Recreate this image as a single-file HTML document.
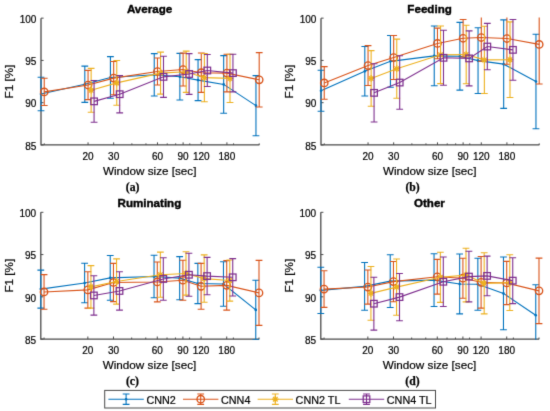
<!DOCTYPE html>
<html><head><meta charset="utf-8"><style>
html,body{margin:0;padding:0;background:#fff;}
svg{display:block;}
text{font-family:"Liberation Sans", sans-serif;fill:#000;stroke:#000;stroke-width:0.2px;}
.s{stroke-width:0.25px;fill:#000;}
.t{fill:#000;stroke:#000;stroke-width:0.4px;}
</style></head><body>
<svg width="550" height="411" viewBox="0 0 550 411">
<defs><filter id="bl" x="0" y="0" width="550" height="411" filterUnits="userSpaceOnUse" color-interpolation-filters="sRGB"><feConvolveMatrix order="3" kernelMatrix="0.0113 0.0837 0.0113 0.0837 0.620 0.0837 0.0113 0.0837 0.0113" edgeMode="duplicate"/></filter></defs>
<g filter="url(#bl)">
<rect width="550" height="411" fill="#fff"/>
<clipPath id="clipa"><rect x="35.00" y="17.55" width="230.40" height="128.00"/></clipPath>
<path d="M41.00 18.15V144.95H259.40" stroke="#4a4a4a" stroke-width="1.3" fill="none"/>
<text x="36.40" y="22.95" text-anchor="end" font-size="10.0">100</text>
<text x="36.40" y="65.22" text-anchor="end" font-size="10.0">95</text>
<text x="36.40" y="107.48" text-anchor="end" font-size="10.0">90</text>
<text x="36.40" y="149.75" text-anchor="end" font-size="10.0">85</text>
<text x="88.05" y="159.95" text-anchor="middle" font-size="10.0">20</text>
<text x="113.67" y="159.95" text-anchor="middle" font-size="10.0">30</text>
<text x="157.48" y="159.95" text-anchor="middle" font-size="10.0">60</text>
<text x="183.11" y="159.95" text-anchor="middle" font-size="10.0">90</text>
<text x="201.29" y="159.95" text-anchor="middle" font-size="10.0">120</text>
<text x="226.91" y="159.95" text-anchor="middle" font-size="10.0">180</text>
<path d="M41.00 18.15h2.6M41.00 60.42h2.6M41.00 102.68h2.6M41.00 144.95h2.6M88.05 144.95v-2.6M113.67 144.95v-2.6M157.48 144.95v-2.6M183.11 144.95v-2.6M201.29 144.95v-2.6M226.91 144.95v-2.6M44.24 144.95v-1.6M131.86 144.95v-1.6M145.96 144.95v-1.6M167.22 144.95v-1.6M175.66 144.95v-1.6M189.77 144.95v-1.6M233.57 144.95v-1.6M259.20 144.95v-1.6" stroke="#4a4a4a" stroke-width="1" fill="none"/>
<path clip-path="url(#clipa)" d="M41.00 77.30V110.70M37.60 77.30H44.40M37.60 110.70H44.40M84.81 66.10V102.40M81.41 66.10H88.21M81.41 102.40H88.21M110.43 56.60V98.30M107.03 56.60H113.83M107.03 98.30H113.83M154.24 53.60V96.00M150.84 53.60H157.64M150.84 96.00H157.64M179.86 53.40V100.00M176.46 53.40H183.26M176.46 100.00H183.26M198.05 59.60V100.60M194.65 59.60H201.45M194.65 100.60H201.45M223.67 55.60V113.20M220.27 55.60H227.07M220.27 113.20H227.07M255.96 75.60V135.70M252.56 75.60H259.36M252.56 135.70H259.36" stroke="#0072BD" stroke-width="1.1" fill="none"/>
<polyline points="41.00,94.00 84.81,84.25 110.43,77.45 154.24,74.80 179.86,76.70 198.05,80.10 223.67,84.40 255.96,105.65" stroke="#0072BD" stroke-width="1.1" fill="none"/>
<circle cx="41.00" cy="94.00" r="1.3" fill="#0072BD"/>
<circle cx="84.81" cy="84.25" r="1.3" fill="#0072BD"/>
<circle cx="110.43" cy="77.45" r="1.3" fill="#0072BD"/>
<circle cx="154.24" cy="74.80" r="1.3" fill="#0072BD"/>
<circle cx="179.86" cy="76.70" r="1.3" fill="#0072BD"/>
<circle cx="198.05" cy="80.10" r="1.3" fill="#0072BD"/>
<circle cx="223.67" cy="84.40" r="1.3" fill="#0072BD"/>
<circle cx="255.96" cy="105.65" r="1.3" fill="#0072BD"/>
<path clip-path="url(#clipa)" d="M44.24 78.30V105.50M40.84 78.30H47.64M40.84 105.50H47.64M88.05 70.40V99.60M84.65 70.40H91.45M84.65 99.60H91.45M113.67 61.50V94.70M110.27 61.50H117.07M110.27 94.70H117.07M157.48 58.00V85.00M154.08 58.00H160.88M154.08 85.00H160.88M183.11 53.10V86.00M179.71 53.10H186.51M179.71 86.00H186.51M201.29 53.00V92.40M197.89 53.00H204.69M197.89 92.40H204.69M226.91 54.30V91.90M223.51 54.30H230.31M223.51 91.90H230.31M259.20 52.60V107.00M255.80 52.60H262.60M255.80 107.00H262.60" stroke="#D95319" stroke-width="1.1" fill="none"/>
<polyline points="44.24,91.90 88.05,85.00 113.67,78.10 157.48,71.50 183.11,69.55 201.29,72.70 226.91,73.10 259.20,79.80" stroke="#D95319" stroke-width="1.1" fill="none"/>
<circle cx="44.24" cy="91.90" r="3.7" fill="none" stroke="#D95319" stroke-width="1.35"/>
<circle cx="88.05" cy="85.00" r="3.7" fill="none" stroke="#D95319" stroke-width="1.35"/>
<circle cx="113.67" cy="78.10" r="3.7" fill="none" stroke="#D95319" stroke-width="1.35"/>
<circle cx="157.48" cy="71.50" r="3.7" fill="none" stroke="#D95319" stroke-width="1.35"/>
<circle cx="183.11" cy="69.55" r="3.7" fill="none" stroke="#D95319" stroke-width="1.35"/>
<circle cx="201.29" cy="72.70" r="3.7" fill="none" stroke="#D95319" stroke-width="1.35"/>
<circle cx="226.91" cy="73.10" r="3.7" fill="none" stroke="#D95319" stroke-width="1.35"/>
<circle cx="259.20" cy="79.80" r="3.7" fill="none" stroke="#D95319" stroke-width="1.35"/>
<path clip-path="url(#clipa)" d="M91.13 68.40V112.20M87.73 68.40H94.53M87.73 112.20H94.53M116.76 60.50V105.30M113.36 60.50H120.16M113.36 105.30H120.16M160.56 52.10V94.10M157.16 52.10H163.96M157.16 94.10H163.96M186.19 51.10V92.40M182.79 51.10H189.59M182.79 92.40H189.59M204.37 53.50V101.80M200.97 53.50H207.77M200.97 101.80H207.77M230.00 54.30V102.50M226.60 54.30H233.40M226.60 102.50H233.40" stroke="#EDB120" stroke-width="1.1" fill="none"/>
<polyline points="91.13,90.30 116.76,82.90 160.56,73.10 186.19,71.75 204.37,77.65 230.00,78.40" stroke="#EDB120" stroke-width="1.1" fill="none"/>
<path d="M87.83 90.30H94.43M91.13 87.00V93.60M88.80 87.97L93.47 92.63M88.80 92.63L93.47 87.97" stroke="#EDB120" stroke-width="1.25" fill="none"/>
<path d="M113.46 82.90H120.06M116.76 79.60V86.20M114.42 80.57L119.09 85.23M114.42 85.23L119.09 80.57" stroke="#EDB120" stroke-width="1.25" fill="none"/>
<path d="M157.26 73.10H163.86M160.56 69.80V76.40M158.23 70.77L162.90 75.43M158.23 75.43L162.90 70.77" stroke="#EDB120" stroke-width="1.25" fill="none"/>
<path d="M182.89 71.75H189.49M186.19 68.45V75.05M183.86 69.42L188.52 74.08M183.86 74.08L188.52 69.42" stroke="#EDB120" stroke-width="1.25" fill="none"/>
<path d="M201.07 77.65H207.67M204.37 74.35V80.95M202.04 75.32L206.70 79.98M202.04 79.98L206.70 75.32" stroke="#EDB120" stroke-width="1.25" fill="none"/>
<path d="M226.70 78.40H233.30M230.00 75.10V81.70M227.66 76.07L232.33 80.73M227.66 80.73L232.33 76.07" stroke="#EDB120" stroke-width="1.25" fill="none"/>
<path clip-path="url(#clipa)" d="M94.07 80.50V122.20M90.67 80.50H97.47M90.67 122.20H97.47M119.70 75.50V112.90M116.30 75.50H123.10M116.30 112.90H123.10M163.50 56.30V97.40M160.10 56.30H166.90M160.10 97.40H166.90M189.13 53.60V94.40M185.73 53.60H192.53M185.73 94.40H192.53M207.31 54.50V86.50M203.91 54.50H210.71M203.91 86.50H210.71M232.94 54.30V91.90M229.54 54.30H236.34M229.54 91.90H236.34" stroke="#7E2F8E" stroke-width="1.1" fill="none"/>
<polyline points="94.07,101.35 119.70,94.20 163.50,76.85 189.13,74.00 207.31,70.50 232.94,73.10" stroke="#7E2F8E" stroke-width="1.1" fill="none"/>
<rect x="90.77" y="98.05" width="6.60" height="6.60" fill="none" stroke="#7E2F8E" stroke-width="1.25"/>
<rect x="116.40" y="90.90" width="6.60" height="6.60" fill="none" stroke="#7E2F8E" stroke-width="1.25"/>
<rect x="160.20" y="73.55" width="6.60" height="6.60" fill="none" stroke="#7E2F8E" stroke-width="1.25"/>
<rect x="185.83" y="70.70" width="6.60" height="6.60" fill="none" stroke="#7E2F8E" stroke-width="1.25"/>
<rect x="204.01" y="67.20" width="6.60" height="6.60" fill="none" stroke="#7E2F8E" stroke-width="1.25"/>
<rect x="229.64" y="69.80" width="6.60" height="6.60" fill="none" stroke="#7E2F8E" stroke-width="1.25"/>
<text x="149.60" y="12.95" text-anchor="middle" font-size="11.6" font-weight="bold" class="t">Average</text>
<text x="149.70" y="175.25" text-anchor="middle" font-size="11.7">Window size [sec]</text>
<text transform="translate(13.00 81.55) rotate(-90)" x="0" y="0" text-anchor="middle" font-size="11.7">F1 [%]</text>
<text x="132.60" y="191.15" text-anchor="middle" font-size="11.7" font-weight="bold" class="s" style='font-family:"Liberation Serif", serif'>(a)</text>
<clipPath id="clipb"><rect x="315.00" y="17.55" width="230.40" height="128.00"/></clipPath>
<path d="M321.00 18.15V144.95H539.40" stroke="#4a4a4a" stroke-width="1.3" fill="none"/>
<text x="316.40" y="22.95" text-anchor="end" font-size="10.0">100</text>
<text x="316.40" y="65.22" text-anchor="end" font-size="10.0">95</text>
<text x="316.40" y="107.48" text-anchor="end" font-size="10.0">90</text>
<text x="316.40" y="149.75" text-anchor="end" font-size="10.0">85</text>
<text x="368.05" y="159.95" text-anchor="middle" font-size="10.0">20</text>
<text x="393.67" y="159.95" text-anchor="middle" font-size="10.0">30</text>
<text x="437.48" y="159.95" text-anchor="middle" font-size="10.0">60</text>
<text x="463.11" y="159.95" text-anchor="middle" font-size="10.0">90</text>
<text x="481.29" y="159.95" text-anchor="middle" font-size="10.0">120</text>
<text x="506.91" y="159.95" text-anchor="middle" font-size="10.0">180</text>
<path d="M321.00 18.15h2.6M321.00 60.42h2.6M321.00 102.68h2.6M321.00 144.95h2.6M368.05 144.95v-2.6M393.67 144.95v-2.6M437.48 144.95v-2.6M463.11 144.95v-2.6M481.29 144.95v-2.6M506.91 144.95v-2.6M324.24 144.95v-1.6M411.86 144.95v-1.6M425.96 144.95v-1.6M447.22 144.95v-1.6M455.66 144.95v-1.6M469.77 144.95v-1.6M513.57 144.95v-1.6M539.20 144.95v-1.6" stroke="#4a4a4a" stroke-width="1" fill="none"/>
<path clip-path="url(#clipb)" d="M321.00 70.20V111.20M317.60 70.20H324.40M317.60 111.20H324.40M364.81 46.50V96.00M361.41 46.50H368.21M361.41 96.00H368.21M390.43 35.50V87.20M387.03 35.50H393.83M387.03 87.20H393.83M434.24 26.00V85.80M430.84 26.00H437.64M430.84 85.80H437.64M459.86 22.40V90.10M456.46 22.40H463.26M456.46 90.10H463.26M478.05 27.80V93.50M474.65 27.80H481.45M474.65 93.50H481.45M503.67 19.90V108.40M500.27 19.90H507.07M500.27 108.40H507.07M535.96 34.20V128.70M532.56 34.20H539.36M532.56 128.70H539.36" stroke="#0072BD" stroke-width="1.1" fill="none"/>
<polyline points="321.00,90.70 364.81,71.25 390.43,61.35 434.24,55.90 459.86,56.25 478.05,60.65 503.67,64.15 535.96,81.45" stroke="#0072BD" stroke-width="1.1" fill="none"/>
<circle cx="321.00" cy="90.70" r="1.3" fill="#0072BD"/>
<circle cx="364.81" cy="71.25" r="1.3" fill="#0072BD"/>
<circle cx="390.43" cy="61.35" r="1.3" fill="#0072BD"/>
<circle cx="434.24" cy="55.90" r="1.3" fill="#0072BD"/>
<circle cx="459.86" cy="56.25" r="1.3" fill="#0072BD"/>
<circle cx="478.05" cy="60.65" r="1.3" fill="#0072BD"/>
<circle cx="503.67" cy="64.15" r="1.3" fill="#0072BD"/>
<circle cx="535.96" cy="81.45" r="1.3" fill="#0072BD"/>
<path clip-path="url(#clipb)" d="M324.24 66.60V99.20M320.84 66.60H327.64M320.84 99.20H327.64M368.05 45.60V85.50M364.65 45.60H371.45M364.65 85.50H371.45M393.67 35.50V79.50M390.27 35.50H397.07M390.27 79.50H397.07M437.48 28.10V58.80M434.08 28.10H440.88M434.08 58.80H440.88M463.11 19.50V57.00M459.71 19.50H466.51M459.71 57.00H466.51M481.29 13.80V61.20M477.89 13.80H484.69M477.89 61.20H484.69M506.91 12.80V64.20M503.51 12.80H510.31M503.51 64.20H510.31M539.20 4.80V84.00M535.80 4.80H542.60M535.80 84.00H542.60" stroke="#D95319" stroke-width="1.1" fill="none"/>
<polyline points="324.24,82.90 368.05,65.55 393.67,57.50 437.48,43.45 463.11,38.25 481.29,37.50 506.91,38.50 539.20,44.40" stroke="#D95319" stroke-width="1.1" fill="none"/>
<circle cx="324.24" cy="82.90" r="3.7" fill="none" stroke="#D95319" stroke-width="1.35"/>
<circle cx="368.05" cy="65.55" r="3.7" fill="none" stroke="#D95319" stroke-width="1.35"/>
<circle cx="393.67" cy="57.50" r="3.7" fill="none" stroke="#D95319" stroke-width="1.35"/>
<circle cx="437.48" cy="43.45" r="3.7" fill="none" stroke="#D95319" stroke-width="1.35"/>
<circle cx="463.11" cy="38.25" r="3.7" fill="none" stroke="#D95319" stroke-width="1.35"/>
<circle cx="481.29" cy="37.50" r="3.7" fill="none" stroke="#D95319" stroke-width="1.35"/>
<circle cx="506.91" cy="38.50" r="3.7" fill="none" stroke="#D95319" stroke-width="1.35"/>
<circle cx="539.20" cy="44.40" r="3.7" fill="none" stroke="#D95319" stroke-width="1.35"/>
<path clip-path="url(#clipb)" d="M371.13 50.60V106.20M367.73 50.60H374.53M367.73 106.20H374.53M396.76 39.10V98.20M393.36 39.10H400.16M393.36 98.20H400.16M440.56 26.00V83.60M437.16 26.00H443.96M437.16 83.60H443.96M466.19 25.30V83.80M462.79 25.30H469.59M462.79 83.80H469.59M484.37 26.30V93.50M480.97 26.30H487.77M480.97 93.50H487.77M510.00 21.90V97.50M506.60 21.90H513.40M506.60 97.50H513.40" stroke="#EDB120" stroke-width="1.1" fill="none"/>
<polyline points="371.13,78.40 396.76,68.65 440.56,54.80 466.19,54.55 484.37,59.90 510.00,59.70" stroke="#EDB120" stroke-width="1.1" fill="none"/>
<path d="M367.83 78.40H374.43M371.13 75.10V81.70M368.80 76.07L373.47 80.73M368.80 80.73L373.47 76.07" stroke="#EDB120" stroke-width="1.25" fill="none"/>
<path d="M393.46 68.65H400.06M396.76 65.35V71.95M394.42 66.32L399.09 70.98M394.42 70.98L399.09 66.32" stroke="#EDB120" stroke-width="1.25" fill="none"/>
<path d="M437.26 54.80H443.86M440.56 51.50V58.10M438.23 52.47L442.90 57.13M438.23 57.13L442.90 52.47" stroke="#EDB120" stroke-width="1.25" fill="none"/>
<path d="M462.89 54.55H469.49M466.19 51.25V57.85M463.86 52.22L468.52 56.88M463.86 56.88L468.52 52.22" stroke="#EDB120" stroke-width="1.25" fill="none"/>
<path d="M481.07 59.90H487.67M484.37 56.60V63.20M482.04 57.57L486.70 62.23M482.04 62.23L486.70 57.57" stroke="#EDB120" stroke-width="1.25" fill="none"/>
<path d="M506.70 59.70H513.30M510.00 56.40V63.00M507.66 57.37L512.33 62.03M507.66 62.03L512.33 57.37" stroke="#EDB120" stroke-width="1.25" fill="none"/>
<path clip-path="url(#clipb)" d="M374.07 63.70V122.00M370.67 63.70H377.47M370.67 122.00H377.47M399.70 55.80V109.30M396.30 55.80H403.10M396.30 109.30H403.10M443.50 30.30V85.30M440.10 30.30H446.90M440.10 85.30H446.90M469.13 30.90V85.90M465.73 30.90H472.53M465.73 85.90H472.53M487.31 23.40V69.70M483.91 23.40H490.71M483.91 69.70H490.71M512.94 19.50V80.20M509.54 19.50H516.34M509.54 80.20H516.34" stroke="#7E2F8E" stroke-width="1.1" fill="none"/>
<polyline points="374.07,92.85 399.70,82.55 443.50,57.80 469.13,58.40 487.31,46.55 512.94,49.85" stroke="#7E2F8E" stroke-width="1.1" fill="none"/>
<rect x="370.77" y="89.55" width="6.60" height="6.60" fill="none" stroke="#7E2F8E" stroke-width="1.25"/>
<rect x="396.40" y="79.25" width="6.60" height="6.60" fill="none" stroke="#7E2F8E" stroke-width="1.25"/>
<rect x="440.20" y="54.50" width="6.60" height="6.60" fill="none" stroke="#7E2F8E" stroke-width="1.25"/>
<rect x="465.83" y="55.10" width="6.60" height="6.60" fill="none" stroke="#7E2F8E" stroke-width="1.25"/>
<rect x="484.01" y="43.25" width="6.60" height="6.60" fill="none" stroke="#7E2F8E" stroke-width="1.25"/>
<rect x="509.64" y="46.55" width="6.60" height="6.60" fill="none" stroke="#7E2F8E" stroke-width="1.25"/>
<text x="429.60" y="12.95" text-anchor="middle" font-size="11.6" font-weight="bold" class="t">Feeding</text>
<text x="429.70" y="175.25" text-anchor="middle" font-size="11.7">Window size [sec]</text>
<text transform="translate(293.00 81.55) rotate(-90)" x="0" y="0" text-anchor="middle" font-size="11.7">F1 [%]</text>
<text x="412.60" y="191.15" text-anchor="middle" font-size="11.7" font-weight="bold" class="s" style='font-family:"Liberation Serif", serif'>(b)</text>
<clipPath id="clipc"><rect x="34.80" y="211.70" width="230.40" height="128.00"/></clipPath>
<path d="M40.80 212.30V339.10H259.20" stroke="#4a4a4a" stroke-width="1.3" fill="none"/>
<text x="36.20" y="217.10" text-anchor="end" font-size="10.0">100</text>
<text x="36.20" y="259.37" text-anchor="end" font-size="10.0">95</text>
<text x="36.20" y="301.63" text-anchor="end" font-size="10.0">90</text>
<text x="36.20" y="343.90" text-anchor="end" font-size="10.0">85</text>
<text x="87.85" y="354.10" text-anchor="middle" font-size="10.0">20</text>
<text x="113.47" y="354.10" text-anchor="middle" font-size="10.0">30</text>
<text x="157.28" y="354.10" text-anchor="middle" font-size="10.0">60</text>
<text x="182.91" y="354.10" text-anchor="middle" font-size="10.0">90</text>
<text x="201.09" y="354.10" text-anchor="middle" font-size="10.0">120</text>
<text x="226.71" y="354.10" text-anchor="middle" font-size="10.0">180</text>
<path d="M40.80 212.30h2.6M40.80 254.57h2.6M40.80 296.83h2.6M40.80 339.10h2.6M87.85 339.10v-2.6M113.47 339.10v-2.6M157.28 339.10v-2.6M182.91 339.10v-2.6M201.09 339.10v-2.6M226.71 339.10v-2.6M44.04 339.10v-1.6M131.66 339.10v-1.6M145.76 339.10v-1.6M167.02 339.10v-1.6M175.46 339.10v-1.6M189.57 339.10v-1.6M233.37 339.10v-1.6M259.00 339.10v-1.6" stroke="#4a4a4a" stroke-width="1" fill="none"/>
<path clip-path="url(#clipc)" d="M40.80 270.10V308.10M37.40 270.10H44.20M37.40 308.10H44.20M84.61 263.30V302.70M81.21 263.30H88.01M81.21 302.70H88.01M110.23 255.50V300.20M106.83 255.50H113.63M106.83 300.20H113.63M154.04 255.20V297.70M150.64 255.20H157.44M150.64 297.70H157.44M179.66 256.60V299.70M176.26 256.60H183.06M176.26 299.70H183.06M197.85 263.40V303.60M194.45 263.40H201.25M194.45 303.60H201.25M223.47 261.70V306.20M220.07 261.70H226.87M220.07 306.20H226.87M255.76 280.20V339.60M252.36 280.20H259.16M252.36 339.60H259.16" stroke="#0072BD" stroke-width="1.1" fill="none"/>
<polyline points="40.80,289.10 84.61,283.00 110.23,277.85 154.04,276.45 179.66,278.15 197.85,283.50 223.47,283.95 255.76,309.90" stroke="#0072BD" stroke-width="1.1" fill="none"/>
<circle cx="40.80" cy="289.10" r="1.3" fill="#0072BD"/>
<circle cx="84.61" cy="283.00" r="1.3" fill="#0072BD"/>
<circle cx="110.23" cy="277.85" r="1.3" fill="#0072BD"/>
<circle cx="154.04" cy="276.45" r="1.3" fill="#0072BD"/>
<circle cx="179.66" cy="278.15" r="1.3" fill="#0072BD"/>
<circle cx="197.85" cy="283.50" r="1.3" fill="#0072BD"/>
<circle cx="223.47" cy="283.95" r="1.3" fill="#0072BD"/>
<circle cx="255.76" cy="309.90" r="1.3" fill="#0072BD"/>
<path clip-path="url(#clipc)" d="M44.04 274.60V309.30M40.64 274.60H47.44M40.64 309.30H47.44M87.85 271.70V308.10M84.45 271.70H91.25M84.45 308.10H91.25M113.47 263.40V301.60M110.07 263.40H116.87M110.07 301.60H116.87M157.28 262.00V301.90M153.88 262.00H160.68M153.88 301.90H160.68M182.91 260.30V300.20M179.51 260.30H186.31M179.51 300.20H186.31M201.09 263.40V309.20M197.69 263.40H204.49M197.69 309.20H204.49M226.71 260.60V310.10M223.31 260.60H230.11M223.31 310.10H230.11M259.00 260.40V325.40M255.60 260.40H262.40M255.60 325.40H262.40" stroke="#D95319" stroke-width="1.1" fill="none"/>
<polyline points="44.04,291.95 87.85,289.90 113.47,282.50 157.28,281.95 182.91,280.25 201.09,286.30 226.71,285.35 259.00,292.90" stroke="#D95319" stroke-width="1.1" fill="none"/>
<circle cx="44.04" cy="291.95" r="3.7" fill="none" stroke="#D95319" stroke-width="1.35"/>
<circle cx="87.85" cy="289.90" r="3.7" fill="none" stroke="#D95319" stroke-width="1.35"/>
<circle cx="113.47" cy="282.50" r="3.7" fill="none" stroke="#D95319" stroke-width="1.35"/>
<circle cx="157.28" cy="281.95" r="3.7" fill="none" stroke="#D95319" stroke-width="1.35"/>
<circle cx="182.91" cy="280.25" r="3.7" fill="none" stroke="#D95319" stroke-width="1.35"/>
<circle cx="201.09" cy="286.30" r="3.7" fill="none" stroke="#D95319" stroke-width="1.35"/>
<circle cx="226.71" cy="285.35" r="3.7" fill="none" stroke="#D95319" stroke-width="1.35"/>
<circle cx="259.00" cy="292.90" r="3.7" fill="none" stroke="#D95319" stroke-width="1.35"/>
<path clip-path="url(#clipc)" d="M90.93 265.60V308.10M87.53 265.60H94.33M87.53 308.10H94.33M116.56 258.90V304.10M113.16 258.90H119.96M113.16 304.10H119.96M160.36 252.10V297.30M156.96 252.10H163.76M156.96 297.30H163.76M185.99 251.80V295.10M182.59 251.80H189.39M182.59 295.10H189.39M204.17 254.90V302.30M200.77 254.90H207.57M200.77 302.30H207.57M229.80 260.00V301.10M226.40 260.00H233.20M226.40 301.10H233.20" stroke="#EDB120" stroke-width="1.1" fill="none"/>
<polyline points="90.93,286.85 116.56,281.50 160.36,274.70 185.99,273.45 204.17,278.60 229.80,280.55" stroke="#EDB120" stroke-width="1.1" fill="none"/>
<path d="M87.63 286.85H94.23M90.93 283.55V290.15M88.60 284.52L93.27 289.18M88.60 289.18L93.27 284.52" stroke="#EDB120" stroke-width="1.25" fill="none"/>
<path d="M113.26 281.50H119.86M116.56 278.20V284.80M114.22 279.17L118.89 283.83M114.22 283.83L118.89 279.17" stroke="#EDB120" stroke-width="1.25" fill="none"/>
<path d="M157.06 274.70H163.66M160.36 271.40V278.00M158.03 272.37L162.70 277.03M158.03 277.03L162.70 272.37" stroke="#EDB120" stroke-width="1.25" fill="none"/>
<path d="M182.69 273.45H189.29M185.99 270.15V276.75M183.66 271.12L188.32 275.78M183.66 275.78L188.32 271.12" stroke="#EDB120" stroke-width="1.25" fill="none"/>
<path d="M200.87 278.60H207.47M204.17 275.30V281.90M201.84 276.27L206.50 280.93M201.84 280.93L206.50 276.27" stroke="#EDB120" stroke-width="1.25" fill="none"/>
<path d="M226.50 280.55H233.10M229.80 277.25V283.85M227.46 278.22L232.13 282.88M227.46 282.88L232.13 278.22" stroke="#EDB120" stroke-width="1.25" fill="none"/>
<path clip-path="url(#clipc)" d="M93.87 275.80V315.10M90.47 275.80H97.27M90.47 315.10H97.27M119.50 271.80V310.10M116.10 271.80H122.90M116.10 310.10H122.90M163.30 257.70V300.20M159.90 257.70H166.70M159.90 300.20H166.70M188.93 253.20V296.30M185.53 253.20H192.33M185.53 296.30H192.33M207.11 257.40V294.80M203.71 257.40H210.51M203.71 294.80H210.51M232.74 258.60V296.00M229.34 258.60H236.14M229.34 296.00H236.14" stroke="#7E2F8E" stroke-width="1.1" fill="none"/>
<polyline points="93.87,295.45 119.50,290.95 163.30,278.95 188.93,274.75 207.11,276.10 232.74,277.30" stroke="#7E2F8E" stroke-width="1.1" fill="none"/>
<rect x="90.57" y="292.15" width="6.60" height="6.60" fill="none" stroke="#7E2F8E" stroke-width="1.25"/>
<rect x="116.20" y="287.65" width="6.60" height="6.60" fill="none" stroke="#7E2F8E" stroke-width="1.25"/>
<rect x="160.00" y="275.65" width="6.60" height="6.60" fill="none" stroke="#7E2F8E" stroke-width="1.25"/>
<rect x="185.63" y="271.45" width="6.60" height="6.60" fill="none" stroke="#7E2F8E" stroke-width="1.25"/>
<rect x="203.81" y="272.80" width="6.60" height="6.60" fill="none" stroke="#7E2F8E" stroke-width="1.25"/>
<rect x="229.44" y="274.00" width="6.60" height="6.60" fill="none" stroke="#7E2F8E" stroke-width="1.25"/>
<text x="149.40" y="207.10" text-anchor="middle" font-size="11.6" font-weight="bold" class="t">Ruminating</text>
<text x="149.50" y="369.40" text-anchor="middle" font-size="11.7">Window size [sec]</text>
<text transform="translate(12.80 275.70) rotate(-90)" x="0" y="0" text-anchor="middle" font-size="11.7">F1 [%]</text>
<text x="132.40" y="385.30" text-anchor="middle" font-size="11.7" font-weight="bold" class="s" style='font-family:"Liberation Serif", serif'>(c)</text>
<clipPath id="clipd"><rect x="314.80" y="211.70" width="230.40" height="128.00"/></clipPath>
<path d="M320.80 212.30V339.10H539.20" stroke="#4a4a4a" stroke-width="1.3" fill="none"/>
<text x="316.20" y="217.10" text-anchor="end" font-size="10.0">100</text>
<text x="316.20" y="259.37" text-anchor="end" font-size="10.0">95</text>
<text x="316.20" y="301.63" text-anchor="end" font-size="10.0">90</text>
<text x="316.20" y="343.90" text-anchor="end" font-size="10.0">85</text>
<text x="367.85" y="354.10" text-anchor="middle" font-size="10.0">20</text>
<text x="393.47" y="354.10" text-anchor="middle" font-size="10.0">30</text>
<text x="437.28" y="354.10" text-anchor="middle" font-size="10.0">60</text>
<text x="462.91" y="354.10" text-anchor="middle" font-size="10.0">90</text>
<text x="481.09" y="354.10" text-anchor="middle" font-size="10.0">120</text>
<text x="506.71" y="354.10" text-anchor="middle" font-size="10.0">180</text>
<path d="M320.80 212.30h2.6M320.80 254.57h2.6M320.80 296.83h2.6M320.80 339.10h2.6M367.85 339.10v-2.6M393.47 339.10v-2.6M437.28 339.10v-2.6M462.91 339.10v-2.6M481.09 339.10v-2.6M506.71 339.10v-2.6M324.04 339.10v-1.6M411.66 339.10v-1.6M425.76 339.10v-1.6M447.02 339.10v-1.6M455.46 339.10v-1.6M469.57 339.10v-1.6M513.37 339.10v-1.6M539.00 339.10v-1.6" stroke="#4a4a4a" stroke-width="1" fill="none"/>
<path clip-path="url(#clipd)" d="M320.80 267.30V313.50M317.40 267.30H324.20M317.40 313.50H324.20M364.61 262.50V310.30M361.21 262.50H368.01M361.21 310.30H368.01M390.23 254.70V307.50M386.83 254.70H393.63M386.83 307.50H393.63M434.04 253.70V306.50M430.64 253.70H437.44M430.64 306.50H437.44M459.66 254.00V313.90M456.26 254.00H463.06M456.26 313.90H463.06M477.85 258.20V310.20M474.45 258.20H481.25M474.45 310.20H481.25M503.47 257.00V329.80M500.07 257.00H506.87M500.07 329.80H506.87M535.76 284.70V345.90M532.36 284.70H539.16M532.36 345.90H539.16" stroke="#0072BD" stroke-width="1.1" fill="none"/>
<polyline points="320.80,290.40 364.61,286.40 390.23,281.10 434.04,280.10 459.66,283.95 477.85,284.20 503.47,293.40 535.76,315.30" stroke="#0072BD" stroke-width="1.1" fill="none"/>
<circle cx="320.80" cy="290.40" r="1.3" fill="#0072BD"/>
<circle cx="364.61" cy="286.40" r="1.3" fill="#0072BD"/>
<circle cx="390.23" cy="281.10" r="1.3" fill="#0072BD"/>
<circle cx="434.04" cy="280.10" r="1.3" fill="#0072BD"/>
<circle cx="459.66" cy="283.95" r="1.3" fill="#0072BD"/>
<circle cx="477.85" cy="284.20" r="1.3" fill="#0072BD"/>
<circle cx="503.47" cy="293.40" r="1.3" fill="#0072BD"/>
<circle cx="535.76" cy="315.30" r="1.3" fill="#0072BD"/>
<path clip-path="url(#clipd)" d="M324.04 270.80V307.40M320.64 270.80H327.44M320.64 307.40H327.44M367.85 270.00V304.10M364.45 270.00H371.25M364.45 304.10H371.25M393.47 261.50V301.70M390.07 261.50H396.87M390.07 301.70H396.87M437.28 259.40V294.10M433.88 259.40H440.68M433.88 294.10H440.68M462.91 258.20V298.20M459.51 258.20H466.31M459.51 298.20H466.31M481.09 256.50V308.10M477.69 256.50H484.49M477.69 308.10H484.49M506.71 261.40V304.60M503.31 261.40H510.11M503.31 304.60H510.11M539.00 258.10V323.60M535.60 258.10H542.40M535.60 323.60H542.40" stroke="#D95319" stroke-width="1.1" fill="none"/>
<polyline points="324.04,289.10 367.85,287.05 393.47,281.60 437.28,276.75 462.91,278.20 481.09,282.30 506.71,283.00 539.00,290.85" stroke="#D95319" stroke-width="1.1" fill="none"/>
<circle cx="324.04" cy="289.10" r="3.7" fill="none" stroke="#D95319" stroke-width="1.35"/>
<circle cx="367.85" cy="287.05" r="3.7" fill="none" stroke="#D95319" stroke-width="1.35"/>
<circle cx="393.47" cy="281.60" r="3.7" fill="none" stroke="#D95319" stroke-width="1.35"/>
<circle cx="437.28" cy="276.75" r="3.7" fill="none" stroke="#D95319" stroke-width="1.35"/>
<circle cx="462.91" cy="278.20" r="3.7" fill="none" stroke="#D95319" stroke-width="1.35"/>
<circle cx="481.09" cy="282.30" r="3.7" fill="none" stroke="#D95319" stroke-width="1.35"/>
<circle cx="506.71" cy="283.00" r="3.7" fill="none" stroke="#D95319" stroke-width="1.35"/>
<circle cx="539.00" cy="290.85" r="3.7" fill="none" stroke="#D95319" stroke-width="1.35"/>
<path clip-path="url(#clipd)" d="M370.93 266.50V320.20M367.53 266.50H374.33M367.53 320.20H374.33M396.56 259.00V315.20M393.16 259.00H399.96M393.16 315.20H399.96M440.36 252.20V302.40M436.96 252.20H443.76M436.96 302.40H443.76M465.99 248.30V301.90M462.59 248.30H469.39M462.59 301.90H469.39M484.17 252.80V313.90M480.77 252.80H487.57M480.77 313.90H487.57M509.80 254.80V310.50M506.40 254.80H513.20M506.40 310.50H513.20" stroke="#EDB120" stroke-width="1.1" fill="none"/>
<polyline points="370.93,293.35 396.56,287.10 440.36,277.30 465.99,275.10 484.17,283.35 509.80,282.65" stroke="#EDB120" stroke-width="1.1" fill="none"/>
<path d="M367.63 293.35H374.23M370.93 290.05V296.65M368.60 291.02L373.27 295.68M368.60 295.68L373.27 291.02" stroke="#EDB120" stroke-width="1.25" fill="none"/>
<path d="M393.26 287.10H399.86M396.56 283.80V290.40M394.22 284.77L398.89 289.43M394.22 289.43L398.89 284.77" stroke="#EDB120" stroke-width="1.25" fill="none"/>
<path d="M437.06 277.30H443.66M440.36 274.00V280.60M438.03 274.97L442.70 279.63M438.03 279.63L442.70 274.97" stroke="#EDB120" stroke-width="1.25" fill="none"/>
<path d="M462.69 275.10H469.29M465.99 271.80V278.40M463.66 272.77L468.32 277.43M463.66 277.43L468.32 272.77" stroke="#EDB120" stroke-width="1.25" fill="none"/>
<path d="M480.87 283.35H487.47M484.17 280.05V286.65M481.84 281.02L486.50 285.68M481.84 285.68L486.50 281.02" stroke="#EDB120" stroke-width="1.25" fill="none"/>
<path d="M506.50 282.65H513.10M509.80 279.35V285.95M507.46 280.32L512.13 284.98M507.46 284.98L512.13 280.32" stroke="#EDB120" stroke-width="1.25" fill="none"/>
<path clip-path="url(#clipd)" d="M373.87 277.30V330.10M370.47 277.30H377.27M370.47 330.10H377.27M399.50 273.50V320.70M396.10 273.50H402.90M396.10 320.70H402.90M443.30 257.00V306.50M439.90 257.00H446.70M439.90 306.50H446.70M468.93 251.30V301.90M465.53 251.30H472.33M465.53 301.90H472.33M487.11 256.10V295.70M483.71 256.10H490.51M483.71 295.70H490.51M512.74 257.70V303.60M509.34 257.70H516.14M509.34 303.60H516.14" stroke="#7E2F8E" stroke-width="1.1" fill="none"/>
<polyline points="373.87,303.70 399.50,297.10 443.30,281.75 468.93,276.60 487.11,275.90 512.74,280.65" stroke="#7E2F8E" stroke-width="1.1" fill="none"/>
<rect x="370.57" y="300.40" width="6.60" height="6.60" fill="none" stroke="#7E2F8E" stroke-width="1.25"/>
<rect x="396.20" y="293.80" width="6.60" height="6.60" fill="none" stroke="#7E2F8E" stroke-width="1.25"/>
<rect x="440.00" y="278.45" width="6.60" height="6.60" fill="none" stroke="#7E2F8E" stroke-width="1.25"/>
<rect x="465.63" y="273.30" width="6.60" height="6.60" fill="none" stroke="#7E2F8E" stroke-width="1.25"/>
<rect x="483.81" y="272.60" width="6.60" height="6.60" fill="none" stroke="#7E2F8E" stroke-width="1.25"/>
<rect x="509.44" y="277.35" width="6.60" height="6.60" fill="none" stroke="#7E2F8E" stroke-width="1.25"/>
<text x="429.40" y="207.10" text-anchor="middle" font-size="11.6" font-weight="bold" class="t">Other</text>
<text x="429.50" y="369.40" text-anchor="middle" font-size="11.7">Window size [sec]</text>
<text transform="translate(292.80 275.70) rotate(-90)" x="0" y="0" text-anchor="middle" font-size="11.7">F1 [%]</text>
<text x="412.40" y="385.30" text-anchor="middle" font-size="11.7" font-weight="bold" class="s" style='font-family:"Liberation Serif", serif'>(d)</text>
<rect x="104.70" y="390.40" width="330.80" height="17.60" fill="#fff" stroke="#4a4a4a" stroke-width="1"/>
<path d="M108.40 399.20H143.80M126.10 394.00V404.40M122.70 394.00H129.50M122.70 404.40H129.50" stroke="#0072BD" stroke-width="1.1" fill="none"/>
<circle cx="126.10" cy="399.20" r="1.3" fill="#0072BD"/>
<text x="146.40" y="403.50" font-size="10.8">CNN2</text>
<path d="M183.00 399.20H218.40M200.70 394.00V404.40M197.30 394.00H204.10M197.30 404.40H204.10" stroke="#D95319" stroke-width="1.1" fill="none"/>
<circle cx="200.70" cy="399.20" r="3.7" fill="none" stroke="#D95319" stroke-width="1.35"/>
<text x="221.00" y="403.50" font-size="10.8">CNN4</text>
<path d="M257.60 399.20H293.00M275.30 394.00V404.40M271.90 394.00H278.70M271.90 404.40H278.70" stroke="#EDB120" stroke-width="1.1" fill="none"/>
<path d="M272.00 399.20H278.60M275.30 395.90V402.50M272.97 396.87L277.63 401.53M272.97 401.53L277.63 396.87" stroke="#EDB120" stroke-width="1.25" fill="none"/>
<text x="295.60" y="403.50" font-size="10.8">CNN2 TL</text>
<path d="M348.80 399.20H384.20M366.50 394.00V404.40M363.10 394.00H369.90M363.10 404.40H369.90" stroke="#7E2F8E" stroke-width="1.1" fill="none"/>
<rect x="363.20" y="395.90" width="6.60" height="6.60" fill="none" stroke="#7E2F8E" stroke-width="1.25"/>
<text x="386.80" y="403.50" font-size="10.8">CNN4 TL</text>
</g>
</svg>
</body></html>
